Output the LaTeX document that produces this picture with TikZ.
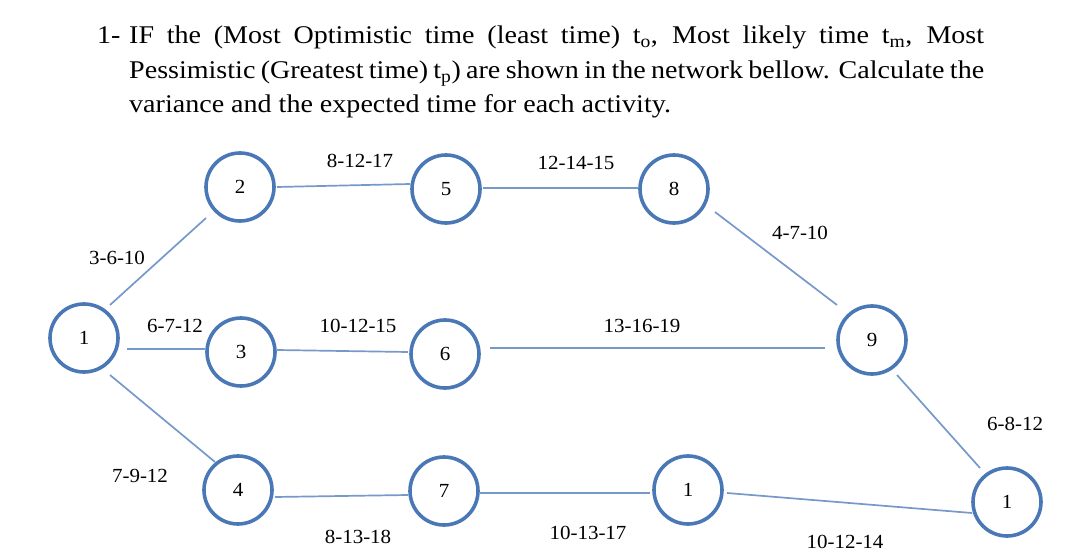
\documentclass[tikz,border=0pt]{standalone}
\usepackage{fontspec}
\setmainfont{Liberation Serif}
\newfontfamily\hdrfont[FakeStretch=1.1]{Liberation Serif}
\newfontfamily\labfont[FakeStretch=1.05]{Liberation Serif}
\usetikzlibrary{calc}
\definecolor{nodeblue}{RGB}{74,120,182}
\definecolor{edgeblue}{RGB}{118,152,202}
\begin{document}
\begin{tikzpicture}[x=1pt,y=-1pt,
  ev/.style={circle,draw=nodeblue,line width=3.6pt,minimum size=68pt,inner sep=0pt,font=\labfont\fontsize{20}{20}\selectfont},
  act/.style={draw=edgeblue,line width=1.7pt},
  lab/.style={font=\labfont\fontsize{20}{20}\selectfont,inner sep=0pt},
  hdr/.style={anchor=base west,inner sep=0pt,font=\hdrfont\fontsize{25.5}{34}\selectfont}]
\useasboundingbox (0,0) rectangle (1080,559);
% header text
\node[hdr] (num) at (97,44) {1-};
\node[hdr] (h1) at (129,44) {\hbox to 855pt{IF the (Most Optimistic time (least time) t\textsubscript{o}, Most likely time t\textsubscript{m}, Most}};
\node[hdr] (h2) at (129,78.5) {\hbox to 855pt{Pessimistic (Greatest time) t\textsubscript{p}) are shown in the network bellow. Calculate the}};
\node[hdr] (h3) at (129,113) {variance and the expected time for each activity.};
% events
\node[ev] (n1)  at (84,338)  {1};
\node[ev] (n2)  at (240,187) {2};
\node[ev] (n3)  at (241,352) {3};
\node[ev] (n4)  at (238,490) {4};
\node[ev] (n5)  at (446,189) {5};
\node[ev] (n6)  at (445,354) {6};
\node[ev] (n7)  at (444,491) {7};
\node[ev] (n8)  at (674,189) {8};
\node[ev] (n9)  at (872,340) {9};
\node[ev] (n10) at (688,490) {1};
\node[ev] (n11) at (1007,502) {1};
% activities
\draw[act] ($(n1)+(26,-33)$) -- ($(n2)+(-34,31)$);
\draw[act] ($(n1)+(43,11)$) -- ($(n3)+(-36,-3)$);
\draw[act] ($(n1)+(26,37)$) -- ($(n4)+(-23,-28)$);
\draw[act] ($(n2)+(37,0)$) -- ($(n5)+(-36,-5)$);
\draw[act] ($(n5)+(37,-1)$) -- ($(n8)+(-36,-1)$);
\draw[act] ($(n8)+(41,23)$) -- ($(n9)+(-35,-35)$);
\draw[act] ($(n3)+(36,-2)$) -- ($(n6)+(-37,-2)$);
\draw[act] ($(n6)+(45,-6)$) -- ($(n9)+(-47,8)$);
\draw[act] ($(n9)+(25,35)$) -- ($(n11)+(-27,-34)$);
\draw[act] ($(n4)+(37,7)$) -- ($(n7)+(-36,4)$);
\draw[act] ($(n7)+(36,2)$) -- ($(n10)+(-38,3)$);
\draw[act] ($(n10)+(39,3)$) -- ($(n11)+(-35,11)$);
% labels
\node[lab] (l25) at (360,161) {8-12-17};
\node[lab] (l58) at (576,163) {12-14-15};
\node[lab] (l89) at (800,233) {4-7-10};
\node[lab] (l12) at (117,258) {3-6-10};
\node[lab] (l13) at (175,326) {6-7-12};
\node[lab] (l36) at (358,326) {10-12-15};
\node[lab] (l69) at (642,326) {13-16-19};
\node[lab] (l911) at (1015,424) {6-8-12};
\node[lab] (l14) at (140,476) {7-9-12};
\node[lab] (l47) at (358,537) {8-13-18};
\node[lab] (l710) at (588,533) {10-13-17};
\node[lab] (l1011) at (845,542) {10-12-14};
\end{tikzpicture}
\end{document}
